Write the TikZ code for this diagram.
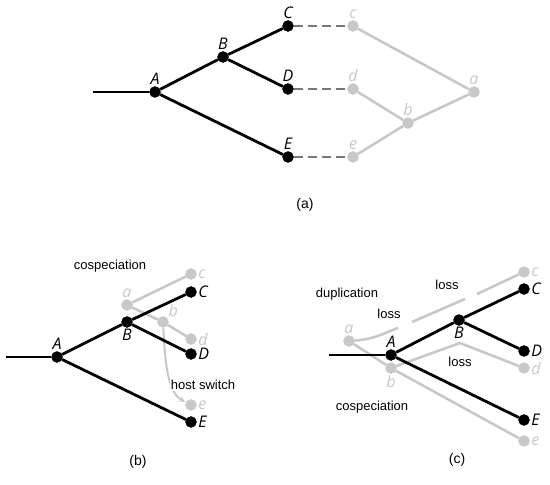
\documentclass[tikz,border=0pt]{standalone}
\usepackage{fontspec}
\setmainfont{Liberation Sans}
\setsansfont{Open Sans}
\usetikzlibrary{arrows.meta}
\usetikzlibrary{calc}
\definecolor{parasite}{RGB}{200,200,200}
\definecolor{link}{RGB}{120,120,120}
\tikzstyle{hostvertex}=[circle,fill=black,draw=black,minimum size=11pt,inner sep=0pt]
\tikzstyle{parasitevertex}=[circle,fill=parasite,draw=parasite,minimum size=11pt,inner sep=0pt]
\tikzstyle{hostedge} = [draw,line width=2.8pt]
\tikzstyle{parasiteedge} = [draw,line width=2.6pt,parasite]
\tikzstyle{linkedge} = [draw,line width=2.8pt,link,dash pattern=on 9pt off 5pt]
\tikzstyle{hostlabel} = [font=\sffamily\itshape\fontsize{16}{16}\selectfont,inner sep=1.5pt]
\tikzstyle{parasitelabel} = [hostlabel,text=parasite]
\tikzstyle{event} = [font=\fontsize{13}{13}\selectfont,fill=white,inner sep=1pt]
\tikzstyle{panellabel} = [font=\fontsize{14}{14}\selectfont]

\begin{document}
\begin{tikzpicture}[x=1pt,y=-1pt]

  \useasboundingbox (0,0) rectangle (550,485);

  % (a)
  \def\dx{0};
  \def\dy{0};

   \foreach \x/\y/\name/\label in {353/26/c1/c, 353/89/d1/d, 353/157/e1/e, 408/123/b1/b, 474/92/a1/a}
          \node[parasitevertex, label={[parasitelabel]above:\label}] (\name) at (\x+\dx, \y+\dy) {};

  \foreach \source/ \dest in {c1/a1, d1/b1, e1/b1, b1/a1}
         \draw[parasiteedge] (\source) -- (\dest);

   \foreach \x/\y/\name/\label in {155/92/A1/A, 223/57/B1/B, 288/26/C1/C, 288/89/D1/D, 288/157/E1/E}
          \node[hostvertex, label={[hostlabel]above:\label}] (\name) at (\x+\dx, \y+\dy) {};

  \coordinate (r1) at (93+\dx, 92+\dy);
  \foreach \source/ \dest in {r1/A1, A1/B1, B1/C1, B1/D1, A1/E1}
         \draw[hostedge] (\source) -- (\dest);

  \foreach \source/ \dest in {C1/c1, D1/d1, E1/e1}
         \draw[linkedge] (\source) -- (\dest);

  \node[panellabel] (capa) at (305, 205) {(a)};

  % (b)
  \def\dx{0};
  \def\dy{250};

   \foreach \x/\y/\name/\label/\pos in {127/55/a2/a/above, 163/72/b2/b/above right, 191/24/c2/c/right, 191/89/d2/d/right, 191/155/e2/e/right}
          \node[parasitevertex, label={[parasitelabel]\pos:\label}] (\name) at (\x+\dx, \y+\dy) {};

  \foreach \source/ \dest in {a2/c2, a2/b2, b2/d2}
         \draw[parasiteedge] (\source) -- (\dest);

  \draw[parasiteedge, line width=2pt, -{Stealth[length=6pt,width=6pt]}, shorten >=1pt]
        (b2) .. controls (165+\dx, 110+\dy) and (167+\dx, 142+\dy) .. (e2);
  \node[event] (switch) at (203, 385) {host switch};

   \foreach \x/\y/\name/\label/\pos in {57/107/A2/A/above, 127/72/B2/B/below, 191/42/C2/C/right, 191/104/D2/D/right, 191/172/E2/E/right}
          \node[hostvertex, label={[hostlabel]\pos:\label}] (\name) at (\x+\dx, \y+\dy) {};

  \coordinate (r2) at (6+\dx, 107+\dy);
  \foreach \source/ \dest in {r2/A2, A2/B2, B2/C2, B2/D2, A2/E2}
         \draw[hostedge] (\source) -- (\dest);

  \node[event] (cospec2) at (110, 266) {cospeciation};
  \node[panellabel] (capb) at (138, 462) {(b)};

  % (c)
  \def\dx{300};
  \def\dy{250};

   \foreach \x/\y/\name/\label/\pos in {49/91/a3/a/above, 91/118/b3/b/below, 224/22/c3/c/right, 224/118/d3/d/right, 224/191/e3/e/right}
          \node[parasitevertex, label={[parasitelabel]\pos:\label}] (\name) at (\x+\dx, \y+\dy) {};

  \foreach \x/\y/\name in {160/93/k3, 98/78/g1, 112/72/g2, 165/49/g3, 177/44/g4}
          \coordinate (\name) at (\x+\dx, \y+\dy);

  \foreach \source/ \dest in {a3/b3, b3/e3, g2/g3, g4/c3}
         \draw[parasiteedge] (\source) -- (\dest);
  \draw[parasiteedge] (b3) -- (k3) -- (d3);
  \draw[parasiteedge] (a3) .. controls (75+\dx, 89+\dy) and (82+\dx, 84+\dy) .. (g1);

   \foreach \x/\y/\name/\label/\pos in {91/105/A3/A/above, 159/70/B3/B/below, 224/39/C3/C/right, 224/101/D3/D/right, 224/170/E3/E/right}
          \node[hostvertex, label={[hostlabel]\pos:\label}] (\name) at (\x+\dx, \y+\dy) {};

  \coordinate (r3) at (29+\dx, 105+\dy);
  \foreach \source/ \dest in {r3/A3, A3/B3, B3/C3, B3/D3, A3/E3}
         \draw[hostedge] (\source) -- (\dest);

  \node[event, fill=none] (dup3) at (347, 294) {duplication};
  \node[event, fill=none] (loss31) at (389, 314) {loss};
  \node[event, fill=none] (loss32) at (447, 285) {loss};
  \node[event, fill=none] (loss33) at (460, 362) {loss};
  \node[event, fill=none] (cospec3) at (372, 407) {cospeciation};
  \node[panellabel] (capc) at (457, 460) {(c)};

\end{tikzpicture}
\end{document}
